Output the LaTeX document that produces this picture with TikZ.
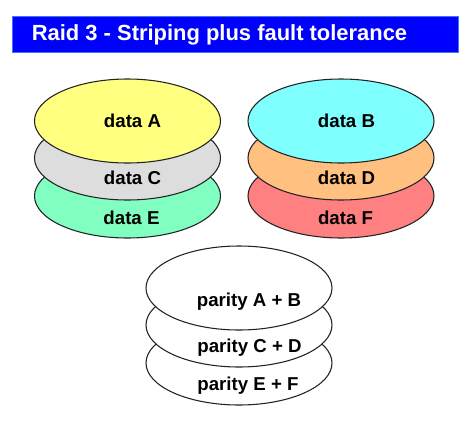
\documentclass[tikz,border=0pt]{standalone}
\usepackage{fontspec}
\setmainfont{Liberation Sans}
\usetikzlibrary{positioning,shapes.geometric}
\definecolor{raidBlue}{HTML}{0000FF}
\definecolor{raidEdge}{HTML}{3C78F0}
\definecolor{diskLine}{HTML}{222222}
\definecolor{diskYellow}{HTML}{FFFF80}
\definecolor{diskGrey}{HTML}{DDDDDD}
\definecolor{diskGreen}{HTML}{80FFC0}
\definecolor{diskCyan}{HTML}{80FFFF}
\definecolor{diskOrange}{HTML}{FFC080}
\definecolor{diskRed}{HTML}{FF8080}

\begin{document}
\begin{tikzpicture}[x=.75pt,y=-.75pt]
\tikzstyle{disk}=[ellipse,draw=diskLine,line width=.8pt,inner sep=0pt,minimum width=139.5pt,minimum height=63pt]
\tikzstyle{disklabel}=[inner sep=0pt,font=\bfseries\fontsize{14}{16}\selectfont,text=black]
\useasboundingbox (0,0) rectangle (474,425);
\node[draw=raidEdge,fill=raidBlue,line width=.6pt,minimum width=335pt,minimum height=27pt,inner sep=0pt] (banner) at (235.5,34) {};
\node[text=white,inner sep=0pt,font=\bfseries\fontsize{16.45}{18}\selectfont] (title) at (219.5,35) {Raid 3 - Striping plus fault tolerance};
% left stack
\foreach \n/\c/\yy in {e/diskGreen/196,c/diskGrey/158,a/diskYellow/121}{\node[disk,fill=\c] (\n) at (127.5,\yy) {};}
% right stack
\foreach \n/\c/\yy in {f/diskRed/196,d/diskOrange/158,b/diskCyan/121}{\node[disk,fill=\c] (\n) at (341,\yy) {};}
% parity stack
\foreach \n/\yy in {pef/363,pcd/325,pab/288}{\node[disk,fill=white] (\n) at (239,\yy) {};}
\node[disklabel] (la) at (132.5,121) {data A};
\node[disklabel] (lc) at (132.5,178) {data C};
\node[disklabel] (le) at (131.5,218) {data E};
\node[disklabel] (lb) at (346.5,121) {data B};
\node[disklabel] (ld) at (346.5,178) {data D};
\node[disklabel] (lf) at (345.5,218) {data F};
\node[disklabel] (lpab) at (249,301.5) {parity A + B};
\node[disklabel] (lpcd) at (249.5,347.5) {parity C + D};
\node[disklabel] (lpef) at (248,385.5) {parity E + F};
\end{tikzpicture}
\end{document}
